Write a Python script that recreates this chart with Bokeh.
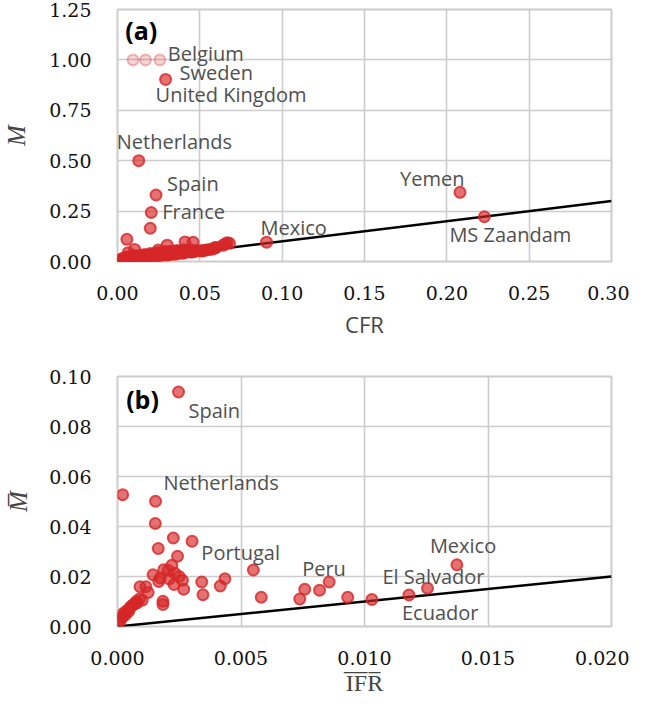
from bokeh.plotting import figure
from bokeh.layouts import column
from bokeh.models import FixedTicker, PrintfTickFormatter, Label, ColumnDataSource
from bokeh.embed import file_html
from bokeh.resources import INLINE
from bokeh.core.properties import value

RED = "#d62728"
GRID = "#cccccc"
ANN = "#505050"
SERIF = "DejaVu Serif"
LSERIF = "Liberation Serif"
SANS = "Open Sans"

# ---------------- panel (a) data ----------------
belgium_cfr = [0.0094, 0.017, 0.0257]
belgium_m = [1.0, 1.0, 1.0]

a_cfr = [0.0292, 0.0129, 0.0234, 0.0205, 0.0199, 0.0905, 0.208, 0.2228,
         0.0057, 0.0104, 0.0065, 0.0247, 0.0302, 0.041, 0.0459, 0.0518,
         0.059, 0.0655, 0.0665,
         0.002, 0.003, 0.004, 0.005, 0.006, 0.007, 0.008, 0.009, 0.010,
         0.011, 0.012, 0.013, 0.014, 0.015, 0.016, 0.017, 0.018, 0.019,
         0.020, 0.021, 0.022, 0.023, 0.024, 0.025, 0.026, 0.027, 0.028,
         0.029, 0.030, 0.031, 0.032, 0.033, 0.034, 0.035, 0.036, 0.037,
         0.038, 0.040, 0.042, 0.044, 0.046, 0.048, 0.052, 0.056, 0.060,
         0.064, 0.068, 0.015, 0.020, 0.025, 0.030, 0.035, 0.040, 0.045,
         0.001, 0.004, 0.008, 0.012,
         0.003, 0.006, 0.009, 0.011, 0.013, 0.016, 0.018, 0.021, 0.023,
         0.026, 0.028, 0.031, 0.033, 0.036, 0.038, 0.041, 0.043, 0.047,
         0.050, 0.054, 0.058, 0.005, 0.010, 0.014, 0.019, 0.024, 0.027,
         0.032, 0.034, 0.039, 0.044]
a_m = [0.903, 0.50, 0.33, 0.243, 0.165, 0.096, 0.343, 0.222,
       0.11, 0.06, 0.044, 0.057, 0.081, 0.097, 0.096, 0.052,
       0.068, 0.087, 0.093,
       0.010, 0.015, 0.012, 0.020, 0.018, 0.025, 0.020, 0.022, 0.030,
       0.025, 0.020, 0.028, 0.030, 0.032, 0.025, 0.035, 0.030, 0.028,
       0.040, 0.035, 0.030, 0.038, 0.042, 0.035, 0.045, 0.040, 0.038,
       0.050, 0.045, 0.042, 0.048, 0.052, 0.045, 0.050, 0.055, 0.048,
       0.050, 0.058, 0.055, 0.060, 0.050, 0.055, 0.055, 0.060, 0.070,
       0.080, 0.090, 0.016, 0.021, 0.026, 0.031, 0.036, 0.041, 0.046,
       0.005, 0.008, 0.012, 0.015,
       0.006, 0.010, 0.013, 0.016, 0.018, 0.019, 0.022, 0.024, 0.027,
       0.029, 0.032, 0.034, 0.036, 0.039, 0.042, 0.045, 0.048, 0.050,
       0.052, 0.057, 0.062, 0.009, 0.014, 0.017, 0.021, 0.028, 0.033,
       0.038, 0.040, 0.044, 0.049]

a_labels = ["Sweden", "United Kingdom", "Netherlands", "Spain", "France",
            "Mexico", "Yemen", "MS Zaandam"]
a_label_idx = [0, 0, 1, 2, 3, 5, 6, 7]
a_label_dx = [14, -10, -22, 11, 11, -6, -60, -35]
a_label_dy = [-7, 15, -19, -11, -1, -15, -14, 18]

a_line_x = [0.0, 0.30]
a_line_y = [0.0, 0.30]
a_xticks = [0.0, 0.05, 0.10, 0.15, 0.20, 0.25, 0.30]
a_yticks = [0.0, 0.25, 0.50, 0.75, 1.00, 1.25]

# ---------------- panel (b) data ----------------
b_ifr = [0.00247, 0.00021, 0.00154, 0.00153, 0.00226, 0.00302, 0.00165,
         0.00243, 0.0055, 0.00582, 0.00435, 0.00416, 0.00341, 0.00346,
         0.00268, 0.00263, 0.00229, 0.00184, 0.00144, 0.00173, 0.00187,
         0.0022, 0.00232, 0.00167, 0.00091, 0.00115, 0.00124, 0.00184,
         0.00857, 0.00818, 0.00758, 0.00738, 0.00932, 0.0103,
         0.01374, 0.01255, 0.0118,
         0.00005, 0.0001, 0.00015, 0.0002, 0.00024, 0.0003, 0.00037,
         0.00045, 0.0005, 0.00055, 0.00063, 0.0007, 0.00076, 0.00089,
         0.0008, 0.001, 0.00205, 0.0025, 0.0021]
b_m = [0.0938, 0.0527, 0.0501, 0.0412, 0.0354, 0.0341, 0.0312,
       0.0281, 0.0226, 0.0117, 0.0191, 0.0162, 0.0178, 0.0127,
       0.0149, 0.0185, 0.0168, 0.0101, 0.0207, 0.0194, 0.0227,
       0.0245, 0.0213, 0.018, 0.0159, 0.0159, 0.0136, 0.0088,
       0.0178, 0.0145, 0.0149, 0.011, 0.0117, 0.0108,
       0.0247, 0.0153, 0.0126,
       0.0015, 0.0025, 0.003, 0.004, 0.0053, 0.0045, 0.0063,
       0.006, 0.0074, 0.008, 0.0087, 0.009, 0.010, 0.011,
       0.0095, 0.0105, 0.0225, 0.020, 0.019]

b_labels = ["Spain", "Netherlands", "Portugal", "Peru", "Mexico",
            "El Salvador", "Ecuador"]
b_label_idx = [0, 2, 8, 28, 34, 35, 36]
b_label_dx = [10, 8, -52, -27, -27, -45, -7]
b_label_dy = [18, -19, -18, -14, -19, -12, 17]

b_line_x = [0.0, 0.02]
b_line_y = [0.0, 0.02]
b_xticks = [0.0, 0.005, 0.010, 0.015, 0.020]
b_yticks = [0.0, 0.02, 0.04, 0.06, 0.08, 0.10]


def style(p, xticks, yticks, xfmt, yfmt):
    p.outline_line_color = GRID
    p.outline_line_width = 2
    p.xaxis.ticker = FixedTicker(ticks=xticks)
    p.yaxis.ticker = FixedTicker(ticks=yticks)
    p.xaxis.formatter = PrintfTickFormatter(format=xfmt)
    p.yaxis.formatter = PrintfTickFormatter(format=yfmt)
    p.axis.axis_line_color = None
    p.axis.major_tick_line_color = None
    p.axis.minor_tick_line_color = None
    p.axis.major_label_text_font = SERIF
    p.axis.major_label_text_font_size = "19px"
    p.axis.major_label_text_color = "#111111"
    p.axis.axis_label_text_font_style = "normal"
    p.yaxis.major_label_standoff = 20
    p.xaxis.major_label_standoff = 18
    p.xgrid.grid_line_color = GRID
    p.ygrid.grid_line_color = GRID
    p.xgrid.grid_line_width = 1.6
    p.ygrid.grid_line_width = 1.6
    p.background_fill_color = "white"
    p.border_fill_color = "white"


def add_labels(p, xs, ys, names, idx, dx, dy):
    src = ColumnDataSource(dict(
        x=[xs[i] for i in idx], y=[ys[i] for i in idx], text=names,
        dx=dx, dy=dy))
    p.text(x="x", y="y", text="text", x_offset="dx", y_offset="dy",
           source=src, text_font=value(SANS), text_font_size="20px",
           text_color=ANN, text_align="left", text_baseline="middle")


# ---------------- figure (a) ----------------
pa = figure(width=629, height=347, x_range=(0, 0.30), y_range=(0, 1.25),
            output_backend="svg", toolbar_location=None,
            min_border_left=101, min_border_right=17, min_border_top=9,
            min_border_bottom=86)
style(pa, a_xticks, a_yticks, "%.2f", "%.2f")
pa.xaxis.axis_label = "CFR"
pa.xaxis.axis_label_text_font = SANS
pa.xaxis.axis_label_text_font_size = "22px"
pa.xaxis.axis_label_standoff = 6
pa.yaxis.axis_label = "M"
pa.yaxis.axis_label_text_font = LSERIF
pa.yaxis.axis_label_text_font_style = "italic"
pa.yaxis.axis_label_text_font_size = "25px"
pa.yaxis.axis_label_standoff = 16

pa.line(a_line_x, a_line_y, line_color="black", line_width=2.5)
pa.scatter(belgium_cfr, belgium_m, size=11, fill_color=RED, line_color=RED,
           fill_alpha=0.2, line_alpha=0.3, line_width=2)
pa.scatter(a_cfr, a_m, size=11, fill_color=RED, line_color=RED,
           fill_alpha=0.65, line_alpha=0.8, line_width=2)
pa.text(x=[belgium_cfr[2]], y=[belgium_m[2]], text=["Belgium"],
        x_offset=8, y_offset=-6, text_font=value(SANS),
        text_font_size="20px", text_color=ANN, text_align="left",
        text_baseline="middle")
add_labels(pa, a_cfr, a_m, a_labels, a_label_idx, a_label_dx, a_label_dy)
pa.add_layout(Label(x=0.0047, y=1.15, text="(a)", text_font=SANS,
                    text_font_style="bold", text_font_size="25px",
                    text_baseline="middle", text_color="black"))

# ---------------- figure (b) ----------------
pb = figure(width=629, height=351, x_range=(0, 0.020), y_range=(0, 0.10),
            output_backend="svg", toolbar_location=None,
            min_border_left=101, min_border_right=18, min_border_top=29,
            min_border_bottom=70)
style(pb, b_xticks, b_yticks, "%.3f", "%.2f")
pb.xaxis.axis_label = "I\u0305F\u0305R\u0305"
pb.xaxis.axis_label_text_font = LSERIF
pb.xaxis.axis_label_text_font_size = "24px"
pb.xaxis.axis_label_standoff = 2
pb.yaxis.axis_label = "M\u0305"
pb.yaxis.axis_label_text_font = LSERIF
pb.yaxis.axis_label_text_font_style = "italic"
pb.yaxis.axis_label_text_font_size = "25px"
pb.yaxis.axis_label_standoff = 14

pb.line(b_line_x, b_line_y, line_color="black", line_width=2.5)
pb.scatter(b_ifr, b_m, size=11, fill_color=RED, line_color=RED,
           fill_alpha=0.65, line_alpha=0.8, line_width=2)
add_labels(pb, b_ifr, b_m, b_labels, b_label_idx, b_label_dx, b_label_dy)
pb.add_layout(Label(x=0.00035, y=0.091, text="(b)", text_font=SANS,
                    text_font_style="bold", text_font_size="25px",
                    text_baseline="middle", text_color="black"))

layout = column(pa, pb, spacing=0)
open("out.html", "w").write(file_html(layout, INLINE))
